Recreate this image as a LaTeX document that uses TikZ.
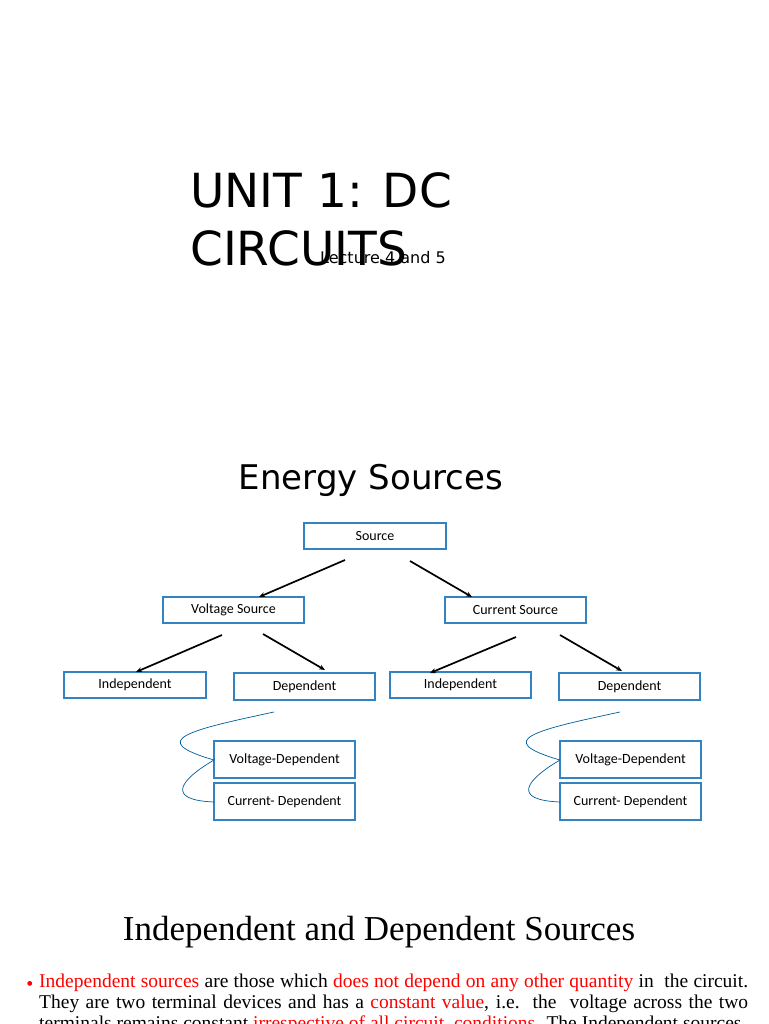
\documentclass[tikz,border=0pt]{standalone}
\usepackage{fontspec}
\setmainfont{Liberation Serif}
\newfontfamily\djfont{DejaVu Sans}
\newfontfamily\calfont{Carlito}
\usetikzlibrary{arrows.meta}
\begin{document}
\begin{tikzpicture}[x=1pt,y=-1pt,
 bx/.style={draw=blue!45!cyan!70!black!80,line width=1.5pt,font=\calfont\fontsize{14}{16}\selectfont,inner sep=0pt},
 ar/.style={-{Stealth[length=6pt,width=5pt]},line width=1.7pt},
 cv/.style={draw=blue!40!cyan!60!black,line width=0.7pt}]
\useasboundingbox (0,0) rectangle (768,1024);
\clip (0,0) rectangle (768,1024);
\node[anchor=base west,font=\djfont\fontsize{47}{57}\selectfont,align=left,inner sep=0] (t) at (190,208) {UNIT 1: DC};
\node[anchor=base west,font=\djfont\fontsize{47}{57}\selectfont,inner sep=0] (t2) at (190,265) {CIRCUITS};
\node[anchor=base west,font=\djfont\fontsize{16}{19}\selectfont,inner sep=0] (lec) at (320,263) {Lecture 4 and 5};
\node[anchor=base,font=\djfont\fontsize{34}{40}\selectfont,inner sep=0] (es) at (371,489) {Energy Sources};
\node[bx,minimum width=142,minimum height=26] (s) at (375,536) {\raisebox{-8pt}{Source}};
\node[bx,minimum width=141,minimum height=26] (vs) at (233.5,610) {\raisebox{-8pt}{Voltage Source}};
\node[bx,minimum width=141,minimum height=26] (cs) at (515.5,610) {\raisebox{-8pt}{Current Source}};
\node[bx,minimum width=142,minimum height=26] (i1) at (135,685) {\raisebox{-7pt}{Independent}};
\node[bx,minimum width=141,minimum height=27] (d1) at (304.5,686.5) {\raisebox{-8pt}{Dependent}};
\node[bx,minimum width=141,minimum height=26] (i2) at (460.5,685) {\raisebox{-7pt}{Independent}};
\node[bx,minimum width=141,minimum height=27] (d2) at (629.5,686.5) {\raisebox{-8pt}{Dependent}};
\node[bx,minimum width=141,minimum height=37] (vd1) at (284.5,759.5) {Voltage-Dependent};
\node[bx,minimum width=141,minimum height=37] (cd1) at (284.5,801.5) {Current- Dependent};
\node[bx,minimum width=141,minimum height=37] (vd2) at (630.5,759.5) {Voltage-Dependent};
\node[bx,minimum width=141,minimum height=37] (cd2) at (630.5,801.5) {Current- Dependent};
\coordinate (a1) at (345,560); \coordinate (b1) at (259,597);
\coordinate (a2) at (410,561); \coordinate (b2) at (472,597);
\coordinate (a3) at (222,635); \coordinate (b3) at (136,672);
\coordinate (a4) at (263,634); \coordinate (b4) at (325,670);
\coordinate (a5) at (516,637); \coordinate (b5) at (430,673);
\coordinate (a6) at (560,635); \coordinate (b6) at (622,671);
\foreach \i in {1,...,6} \draw[ar] (a\i) -- (b\i);
\foreach \dx/\n in {0/1,346/2}{
\coordinate (c\n) at (274+\dx,712);
\draw[cv] (c\n) .. controls (190+\dx,730) and (145+\dx,740) .. (214+\dx,760)
  .. controls (180+\dx,780) and (165+\dx,800) .. (214+\dx,802);
}
\node[anchor=base,font=\fontsize{35}{40}\selectfont,inner sep=0] (h) at (379,940) {Independent and Dependent Sources};
\node[anchor=base,text=red,font=\fontsize{20}{21}\selectfont,inner sep=0] (bul) at (30,990) {\textbullet};
\node[anchor=north west,inner sep=0,text width=709,align=justify,font=\fontsize{19.5}{21}\selectfont] (body) at (39,974)
{\textcolor{red}{Independent sources} are those which \textcolor{red}{does not depend on any other quantity} in \ the circuit. They are two terminal devices and has a \textcolor{red}{constant value}, i.e.\ \ the \ voltage across the two terminals remains constant \textcolor{red}{irrespective of all circuit \ conditions}. The Independent sources};
\end{tikzpicture}
\end{document}
